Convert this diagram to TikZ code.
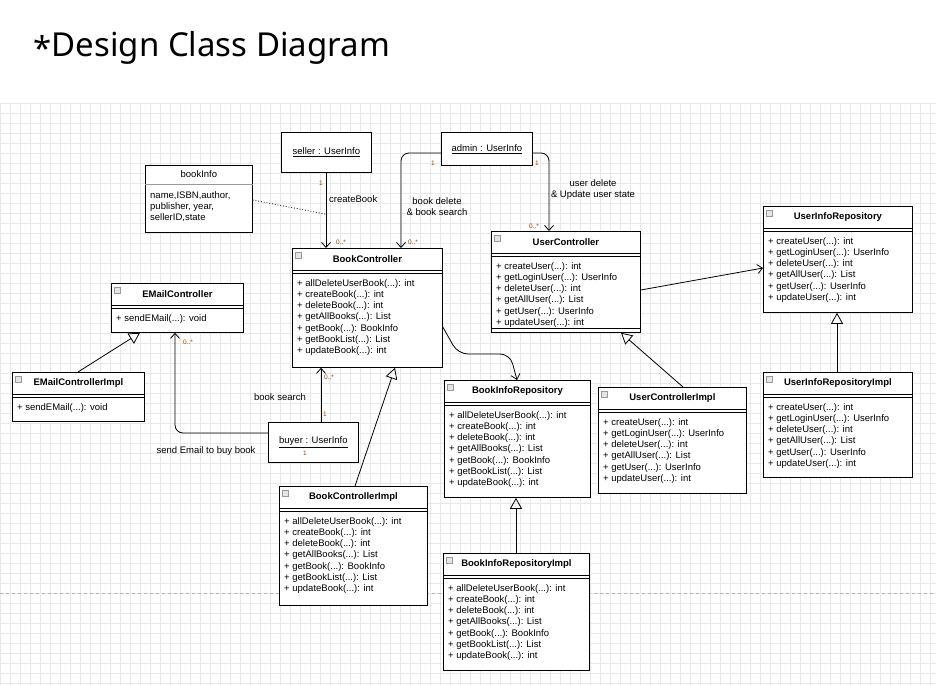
\documentclass[tikz,border=0pt]{standalone}
\usepackage{fontspec}
\setmainfont{Liberation Sans}
\newfontfamily\titlefont{Noto Sans}
\usetikzlibrary{calc}
\usetikzlibrary{positioning}
\usetikzlibrary{arrows.meta}

\tikzset{
    classbox/.style={draw, thick, fill=white, anchor=north west, inner sep=0pt},
    classtitle/.style={font=\fontsize{9.5}{10}\selectfont\bfseries, inner sep=0pt},
    methods/.style={font=\fontsize{9.5}{11.3}\selectfont, align=left, inner sep=0pt, anchor=north west},
    objbox/.style={draw, thick, fill=white, anchor=north west, inner sep=0pt, font=\fontsize{9.5}{10}\selectfont},
    mult/.style={font=\fontsize{6.5}{7}\selectfont, text=black!45!orange, inner sep=1pt},
    lbl/.style={font=\fontsize{9.5}{11}\selectfont, align=center, inner sep=1pt},
    assoc/.style={thick, -{Straight Barb[length=5pt, width=9pt]}, rounded corners=8pt},
    inherit/.style={thick, -{Triangle[open, length=11pt, width=12pt]}}
}

% name, x, y, width, height, title, methods
\newcommand{\umlclass}[7]{
    \node[classbox, minimum width=#4pt, minimum height=#5pt] (#1) at (#2,#3) {};
    \node[classtitle] at ($(#1.north)+(0,11)$) {#6};
    \path[draw, thick] ($(#1.north west)+(0,22)$) -- ($(#1.north east)+(0,22)$);
    \path[draw, thick] ($(#1.north west)+(0,25)$) -- ($(#1.north east)+(0,25)$);
    \path[draw, black!40, fill=black!10] ($(#1.north west)+(3,4)$) rectangle ($(#1.north west)+(9,10)$);
    \node[methods] at ($(#1.north west)+(5,31)$) {#7};
}

\begin{document}
\begin{tikzpicture}[x=1pt, y=-1pt]

        \useasboundingbox (0,0) rectangle (936,685);

        \node[anchor=west, font=\titlefont\fontsize{33}{36}\selectfont] (title) at (30,48) {\raisebox{-0.12em}{\textbf{*}}Design Class Diagram};

        \foreach \gx in {0,10,...,930}
            \path[draw, black!9] (\gx,103) -- (\gx,685);
        \foreach \gy in {103,113,...,683}
            \path[draw, black!9] (0,\gy) -- (936,\gy);
        \path[draw, black!30, dashed] (0,593) -- (936,593);

        % objects
        \node[objbox, minimum width=90pt, minimum height=40pt] (seller) at (281,132) {\underline{seller : UserInfo}};
        \node[objbox, minimum width=91pt, minimum height=33pt] (admin) at (441,132) {\underline{admin : UserInfo}};
        \node[objbox, minimum width=90pt, minimum height=40pt] (buyer) at (268,422) {\underline{buyer : UserInfo}};

        \node[classbox, minimum width=107pt, minimum height=67pt] (bookinfo) at (145,165) {};
        \node[lbl] at ($(bookinfo.north)+(0,9)$) {bookInfo};
        \path[draw, black!40] ($(bookinfo.north west)+(0,19)$) -- ($(bookinfo.north east)+(0,19)$);
        \node[methods] at ($(bookinfo.north west)+(5,26)$) {name,ISBN,author,\\publisher, year,\\sellerID,state};

        % classes
        \umlclass{bookctrl}{292}{248}{150}{119}{BookController}{+ allDeleteUserBook(...): int\\+ createBook(...): int\\+ deleteBook(...): int\\+ getAllBooks(...): List\\+ getBook(...): BookInfo\\+ getBookList(...): List\\+ updateBook(...): int}
        \umlclass{userctrl}{491}{231}{149}{101}{UserController}{+ createUser(...): int\\+ getLoginUser(...): UserInfo\\+ deleteUser(...): int\\+ getAllUser(...): List\\+ getUser(...): UserInfo\\+ updateUser(...): int}
        \path[draw, thick] ($(userctrl.south west)+(0,-4)$) -- ($(userctrl.south east)+(0,-4)$);
        \umlclass{userrepo}{763}{206}{149}{106}{UserInfoRepository}{+ createUser(...): int\\+ getLoginUser(...): UserInfo\\+ deleteUser(...): int\\+ getAllUser(...): List\\+ getUser(...): UserInfo\\+ updateUser(...): int}
        \umlclass{emailctrl}{111}{283}{132}{49}{EMailController}{+ sendEMail(...): void}
        \umlclass{emailimpl}{12}{372}{132}{49}{EMailControllerImpl}{+ sendEMail(...): void}
        \umlclass{bookrepo}{444}{380}{146}{117}{BookInfoRepository}{+ allDeleteUserBook(...): int\\+ createBook(...): int\\+ deleteBook(...): int\\+ getAllBooks(...): List\\+ getBook(...): BookInfo\\+ getBookList(...): List\\+ updateBook(...): int}
        \umlclass{userimpl}{598}{387}{148}{106}{UserControllerImpl}{+ createUser(...): int\\+ getLoginUser(...): UserInfo\\+ deleteUser(...): int\\+ getAllUser(...): List\\+ getUser(...): UserInfo\\+ updateUser(...): int}
        \umlclass{userrepoimpl}{763}{372}{149}{105}{UserInfoRepositoryImpl}{+ createUser(...): int\\+ getLoginUser(...): UserInfo\\+ deleteUser(...): int\\+ getAllUser(...): List\\+ getUser(...): UserInfo\\+ updateUser(...): int}
        \umlclass{bookimpl}{279}{486}{148}{119}{BookControllerImpl}{+ allDeleteUserBook(...): int\\+ createBook(...): int\\+ deleteBook(...): int\\+ getAllBooks(...): List\\+ getBook(...): BookInfo\\+ getBookList(...): List\\+ updateBook(...): int}
        \umlclass{bookrepoimpl}{443}{553}{146}{117}{BookInfoRepositoryImpl}{+ allDeleteUserBook(...): int\\+ createBook(...): int\\+ deleteBook(...): int\\+ getAllBooks(...): List\\+ getBook(...): BookInfo\\+ getBookList(...): List\\+ updateBook(...): int}

        % associations
        \path[draw, assoc] (seller.south -| 326,0) -- (bookctrl.north -| 326,0) coordinate[pos=0.55] (cb);
        \node[mult] at (321,183) {1};
        \node[mult] at (341,242) {0..*};
        \node[lbl, anchor=west] at (328,199) {createBook};
        \path[draw, thick, dotted] (bookinfo.east |- 0,200) -- (cb);

        \path[draw, assoc] (admin.west |- 0,153) -- (401,153) -- (bookctrl.north -| 401,0);
        \node[mult] at (433,163) {1};
        \node[mult] at (413,242) {0..*};
        \node[lbl] at (437,207) {book delete\\\& book search};

        \path[draw, assoc] (admin.east |- 0,153) -- (549,153) -- (userctrl.north -| 549,0);
        \node[mult] at (537,163) {1};
        \node[mult] at (534,226) {0..*};
        \node[lbl] at (593,190) {user delete\\\& Update user state};

        \path[draw, assoc] (userctrl.east |- 0,290) -- (userrepo.west |- 0,268);

        \path[draw, assoc, rounded corners=10pt] (bookctrl.east |- 0,327) -- (458,354) -- (510,354) -- (bookrepo.north -| 517,0);

        \path[draw, assoc] (buyer.north -| 321,0) -- (bookctrl.south -| 321,0);
        \node[mult] at (325,414) {1};
        \node[mult] at (329,377) {0..*};
        \node[lbl, anchor=east] at (307,397) {book search};

        \path[draw, assoc] (buyer.west |- 0,433) -- (175,433) -- (emailctrl.south -| 175,0);
        \node[mult] at (188,342) {0..*};
        \node[mult] at (305,453) {1};
        \node[lbl] at (206,451) {send Email to buy book};

        % realization
        \path[draw, inherit] (emailimpl.north -| 78,0) -- (emailctrl.south -| 140,0);
        \path[draw, inherit] (bookimpl.north -| 355,0) -- (bookctrl.south -| 395,0);
        \path[draw, inherit] (userimpl.north -| 683,0) -- (userctrl.south -| 621,0);
        \path[draw, inherit] (userrepoimpl.north -| 837,0) -- (userrepo.south -| 837,0);
        \path[draw, inherit] (bookrepoimpl.north -| 516,0) -- (bookrepo.south -| 516,0);

    \end{tikzpicture}
\end{document}
